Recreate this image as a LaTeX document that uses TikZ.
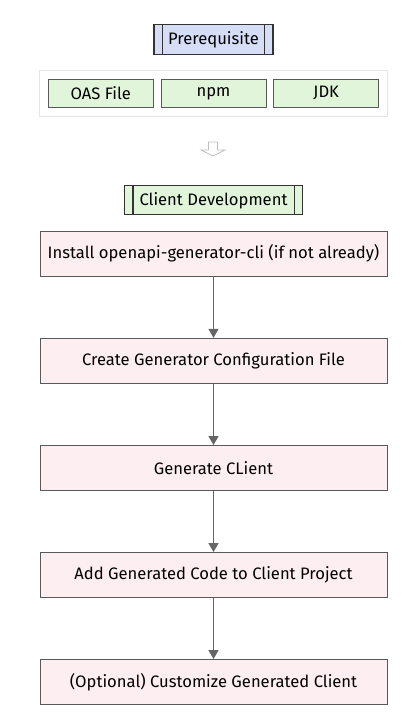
\documentclass[tikz,border=0pt]{standalone}
\usepackage{fontspec}
\setmainfont{Fira Sans}
\usetikzlibrary{arrows.meta}
\definecolor{stepfill}{HTML}{FDEEF2}
\definecolor{prefill}{HTML}{D5DEF6}
\definecolor{itemfill}{HTML}{E1F5DA}
\tikzset{
  label/.style={draw=black!80, line width=1.2pt, minimum height=30pt, inner sep=0pt, font=\fontsize{16.6}{19}\selectfont},
  item/.style={draw=black!65, line width=0.9pt, fill=itemfill, minimum width=105pt, minimum height=28.5pt, inner sep=0pt, font=\fontsize{16.6}{19}\selectfont},
  stepbox/.style={draw=black!65, line width=0.9pt, fill=stepfill, minimum width=347pt, minimum height=45pt, inner sep=0pt, font=\fontsize{16.6}{19}\selectfont},
  flow/.style={draw=black!60, line width=1.3pt, -{Triangle[length=9pt, width=10pt]}}
}
\begin{document}
\begin{tikzpicture}[x=1pt, y=-1pt]
      \useasboundingbox (0, 0) rectangle (417, 722);
      \node (pre) [label, fill=prefill, minimum width=119pt] at (213.5, 39.3) {Prerequisite};
      \draw[black!80, line width=1.2pt] ([xshift=9pt]pre.north west) -- ([xshift=9pt]pre.south west)
            ([xshift=-9pt]pre.north east) -- ([xshift=-9pt]pre.south east);
      \draw[black!10, line width=0.9pt, fill=white] (39.3, 70) rectangle (387.3, 116);
      \node (oas) [item] at (100.8, 93.3) {OAS File};
      \node (npm) [item] at (213.5, 93.3) {npm};
      \node (jdk) [item] at (326.2, 93.3) {JDK};
      \draw[black!25, line width=0.8pt, fill=white] (208.5, 142) -- (217.5, 142) -- (217.5, 150) -- (225, 150)
            -- (213, 156) -- (201, 150) -- (208.5, 150) -- cycle;
      \node (dev) [label, fill=itemfill, minimum width=178pt, minimum height=29pt] at (213.5, 200.3) {Client Development};
      \draw[black!80, line width=1.2pt] ([xshift=9pt]dev.north west) -- ([xshift=9pt]dev.south west)
            ([xshift=-9pt]dev.north east) -- ([xshift=-9pt]dev.south east);
      \node (install) [stepbox] at (213.5, 253.5) {Install openapi-generator-cli (if not already)};
      \node (config) [stepbox] at (213.5, 360.8) {Create Generator Configuration File};
      \node (gen) [stepbox] at (213.5, 468) {Generate CLient};
      \node (add) [stepbox] at (213.5, 575) {Add Generated Code to Client Project};
      \node (custom) [stepbox] at (213.5, 682) {(Optional) Customize Generated Client};
      \draw[flow] (install) -- (config);
      \draw[flow] (config) -- (gen);
      \draw[flow] (gen) -- (add);
      \draw[flow] (add) -- (custom);
\end{tikzpicture}
\end{document}
